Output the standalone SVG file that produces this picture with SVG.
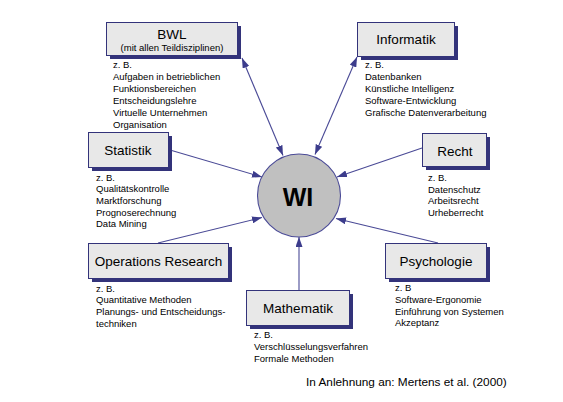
<svg xmlns="http://www.w3.org/2000/svg" width="563" height="402" viewBox="0 0 563 402">
<defs>
<style>
.shadow{fill:#33337a;}
.box{fill:#e8e8e8;stroke:#33337a;stroke-width:1;}
.title{font-family:"Liberation Sans",Arial,sans-serif;font-size:13.5px;fill:#000;text-anchor:middle;}
.sub{font-family:"Liberation Sans",Arial,sans-serif;font-size:9.5px;fill:#000;text-anchor:middle;}
.list{font-family:"Liberation Sans",Arial,sans-serif;font-size:9.5px;fill:#000;}
.conn{stroke:#4a4a96;stroke-width:1.1;fill:none;marker-end:url(#arr);}
.both{marker-start:url(#arr);}
.foot{font-family:"Liberation Sans",Arial,sans-serif;font-size:11.8px;fill:#000;}
</style>
<marker id="arr" viewBox="0 0 10 7" refX="10" refY="3.5" markerWidth="10" markerHeight="7" markerUnits="userSpaceOnUse" orient="auto-start-reverse">
<path d="M0,0 L10,3.5 L0,7 z" fill="#3c3c8c"/>
</marker>
</defs>
<rect width="563" height="402" fill="#fff"/>

<g id="connectors">
<line class="conn both" x1="242" y1="58" x2="283" y2="155.5"/>
<line class="conn both" x1="357" y1="57" x2="315" y2="154.5"/>
<line class="conn" x1="170" y1="150" x2="262" y2="177"/>
<line class="conn" x1="422" y1="148" x2="337" y2="177"/>
<line class="conn" x1="158" y1="243" x2="262" y2="217.5"/>
<line class="conn" x1="438" y1="243" x2="336" y2="218.5"/>
<line class="conn" x1="299" y1="290" x2="299" y2="237"/>
</g>

<g id="wi">
<circle cx="299" cy="195.5" r="41.5" fill="#c0c0c0" stroke="#4a4a96" stroke-width="1.1"/>
<text x="298" y="205.5" text-anchor="middle" font-family="'Liberation Sans',Arial,sans-serif" font-weight="bold" font-size="25px" fill="#000">WI</text>
</g>

<g id="bwl">
<rect class="shadow" x="110" y="26" width="131" height="33"/>
<rect class="box" x="106.5" y="22.5" width="131" height="33"/>
<text class="title" x="172" y="39">BWL</text>
<text class="sub" x="172" y="51">(mit allen Teildisziplinen)</text>
<text class="list" x="113"><tspan x="113" y="68">z. B.</tspan><tspan x="113" y="79.9">Aufgaben in betrieblichen</tspan><tspan x="113" y="91.8">Funktionsbereichen</tspan><tspan x="113" y="103.7">Entscheidungslehre</tspan><tspan x="113" y="115.6">Virtuelle Unternehmen</tspan><tspan x="113" y="127.5">Organisation</tspan></text>
</g>

<g id="informatik">
<rect class="shadow" x="361" y="26" width="97" height="34"/>
<rect class="box" x="357.5" y="22.5" width="97" height="34"/>
<text class="title" x="406" y="44">Informatik</text>
<text class="list"><tspan x="365" y="68.4">z. B.</tspan><tspan x="365" y="80.3">Datenbanken</tspan><tspan x="365" y="92.2">Künstliche Intelligenz</tspan><tspan x="365" y="104.1">Software-Entwicklung</tspan><tspan x="365" y="116">Grafische Datenverarbeitung</tspan></text>
</g>

<g id="statistik">
<rect class="shadow" x="92" y="136" width="80" height="35"/>
<rect class="box" x="88.5" y="132.5" width="80" height="35"/>
<text class="title" x="128" y="155">Statistik</text>
<text class="list"><tspan x="96" y="180.5">z. B.</tspan><tspan x="96" y="192.2">Qualitätskontrolle</tspan><tspan x="96" y="203.9">Marktforschung</tspan><tspan x="96" y="215.6">Prognoserechnung</tspan><tspan x="96" y="227.3">Data Mining</tspan></text>
</g>

<g id="recht">
<rect class="shadow" x="426" y="137" width="64" height="33"/>
<rect class="box" x="422.5" y="133.5" width="64" height="33"/>
<text class="title" x="455" y="155.5">Recht</text>
<text class="list"><tspan x="428" y="181">z. B.</tspan><tspan x="428" y="192.6">Datenschutz</tspan><tspan x="428" y="204.2">Arbeitsrecht</tspan><tspan x="428" y="215.8">Urheberrecht</tspan></text>
</g>

<g id="operations-research">
<rect class="shadow" x="92" y="247" width="140" height="35"/>
<rect class="box" x="88.5" y="243.5" width="140" height="35"/>
<text class="title" x="158.5" y="266">Operations Research</text>
<text class="list"><tspan x="96" y="291.5">z. B.</tspan><tspan x="96" y="303.2">Quantitative Methoden</tspan><tspan x="96" y="314.9">Planungs- und Entscheidungs-</tspan><tspan x="96" y="326.6">techniken</tspan></text>
</g>

<g id="psychologie">
<rect class="shadow" x="389" y="247" width="101" height="35"/>
<rect class="box" x="385.5" y="243.5" width="101" height="35"/>
<text class="title" x="436" y="266">Psychologie</text>
<text class="list"><tspan x="395" y="291">z. B</tspan><tspan x="395" y="302.8">Software-Ergonomie</tspan><tspan x="395" y="314.6">Einführung von Systemen</tspan><tspan x="395" y="326.4">Akzeptanz</tspan></text>
</g>

<g id="mathematik">
<rect class="shadow" x="250" y="294" width="103" height="35"/>
<rect class="box" x="246.5" y="290.5" width="103" height="35"/>
<text class="title" x="298" y="312.5">Mathematik</text>
<text class="list"><tspan x="254" y="338">z. B.</tspan><tspan x="254" y="349.8">Verschlüsselungsverfahren</tspan><tspan x="254" y="361.6">Formale Methoden</tspan></text>
</g>

<text class="foot" x="306" y="386">In Anlehnung an: Mertens et al. (2000)</text>
</svg>
